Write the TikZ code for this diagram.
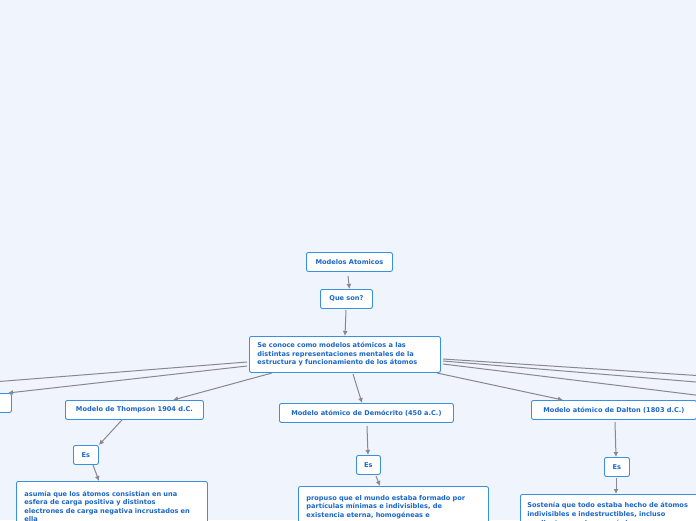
\documentclass[tikz,border=0pt]{standalone}
\usepackage{fontspec}
\setmainfont{DejaVu Sans}
\begin{document}
\begin{tikzpicture}[x=1pt,y=-1pt,
  box/.style={draw=boxb,fill=white,rounded corners=2pt,line width=0.9pt,text=txt,font=\fontsize{6.6}{8.6}\selectfont\bfseries,inner sep=0pt,anchor=north west},
  conn/.style={draw=lineg,line width=1pt,-{Latex[length=5pt,width=5pt]}}]
\definecolor{bg}{HTML}{F0F4FD}
\definecolor{boxb}{HTML}{3B8FE0}
\definecolor{txt}{HTML}{1A66C8}
\definecolor{lineg}{HTML}{888890}
\usetikzlibrary{arrows.meta}
\fill[bg] (0,0) rectangle (696,520);
\clip (0,0) rectangle (696,520);
\useasboundingbox (0,0) rectangle (696,520);
\node[box,minimum width=86pt,minimum height=19pt,align=center] (ma) at (306,252) {Modelos Atomicos};
\node[box,minimum width=52pt,minimum height=19pt,align=center] (qs) at (320,289) {Que son?};
\node[box,minimum width=191pt,minimum height=36pt,text width=175pt,inner xsep=8pt,align=left] (sc) at (249,336) {Se conoce como modelos atómicos a las\\distintas representaciones mentales de la\\estructura y funcionamiento de los átomos};
\node[box,minimum width=60pt,minimum height=19pt,align=right,inner xsep=2pt] (lf) at (-49,393) {\hfill)};
\node[box,minimum width=138pt,minimum height=19pt,align=center] (th) at (65,400) {Modelo de Thompson 1904 d.C.};
\node[box,minimum width=25pt,minimum height=19pt,align=center] (e1) at (73,445) {Es};
\node[box,minimum width=191pt,minimum height=50pt,text width=175pt,inner xsep=8pt,inner ysep=5pt,align=left] (tt) at (16,481) {asumía que los átomos consistían en una\\esfera de carga positiva y distintos\\electrones de carga negativa incrustados en\\ella};
\node[box,minimum width=174pt,minimum height=19pt,align=center] (de) at (279,403) {Modelo atómico de Demócrito (450 a.C.)};
\node[box,minimum width=24pt,minimum height=19pt,align=center] (e2) at (356,455) {Es};
\node[box,minimum width=190pt,minimum height=50pt,text width=174pt,inner xsep=8pt,inner ysep=5pt,align=left] (dt) at (298,486) {propuso que el mundo estaba formado por\\partículas mínimas e indivisibles, de\\existencia eterna, homogéneas e\\incompresibles};
\node[box,minimum width=165pt,minimum height=19pt,align=center] (da) at (531,400) {Modelo atómico de Dalton (1803 d.C.)};
\node[box,minimum width=25pt,minimum height=19pt,align=center] (e3) at (604,457) {Es};
\node[box,minimum width=185pt,minimum height=40pt,text width=175pt,inner xsep=7pt,inner ysep=5pt,align=left] (dat) at (520,494) {Sostenía que todo estaba hecho de átomos\\indivisibles e indestructibles, incluso\\mediante reacciones químicas};
\coordinate (r1) at (720,377);
\coordinate (r2) at (720,384);
\coordinate (r3) at (720,398);
\coordinate (l1) at (-20,383);
\draw[conn] (348,276) -- (ma.south |- qs.north);
\draw[conn] (346,310) -- (345,336);
\draw[conn] (th.south -| 122,0) -- (e1.north east);
\draw[conn] (93,465) -- (99,481);
\draw[conn] (353,374) -- (362,403);
\draw[conn] (367,426) -- (368,455);
\draw[conn] (376,476) -- (380,486);
\draw[conn] (272,373) -- (173,400);
\draw[conn] (437,373) -- (563,400);
\draw[conn] (615,422) -- (616,457);
\draw[conn] (616,478) -- (616,494);
\draw[lineg,line width=1pt] (247,362) -- (l1);
\draw[conn] (247,366) -- (8,393);
\draw[lineg,line width=1pt] (443,359) -- (r1);
\draw[lineg,line width=1pt] (443,361) -- (r2);
\draw[lineg,line width=1pt] (443,364) -- (r3);
\end{tikzpicture}
\end{document}
